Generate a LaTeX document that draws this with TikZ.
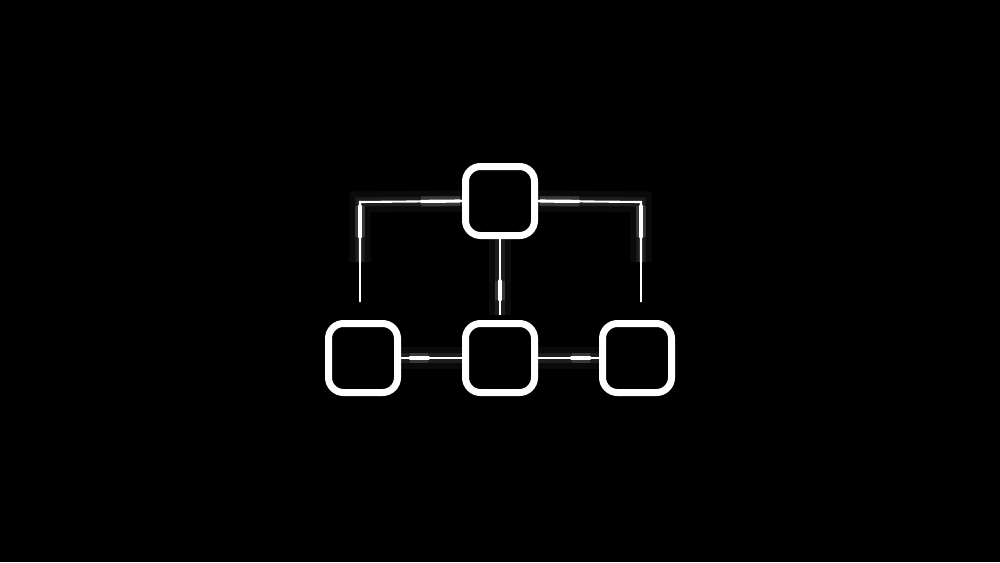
\documentclass[tikz,border=0pt]{standalone}
\usetikzlibrary{positioning,calc}

\begin{document}
\begin{tikzpicture}[
  x=1cm, y=1cm,
  unit/.style={draw=white, fill=black, line width=0.07cm, rounded corners=0.15cm,
    minimum size=0.69cm, inner sep=0pt},
  glow/.style={draw=white!60, line width=0.6pt,
    preaction={draw=white, opacity=0.04, line width=6pt},
    preaction={draw=white, opacity=0.08, line width=2.6pt}},
  dim/.style={draw=white!30, line width=0.5pt},
  spark/.style={draw=white, line width=0.9pt, line cap=round,
    preaction={draw=white, opacity=0.12, line width=3pt}}
]
% background
\fill[black] (0,0) rectangle (10,5.62);
\useasboundingbox (0,0) rectangle (10,5.62);

% Nodes
\node[unit] (top) at (5.00,3.61) {};
\node[unit] (mid) at (5.00,2.04) {};
\node[unit, left=0.61cm of mid] (left) {};
\node[unit, right=0.61cm of mid] (right) {};

% free ends of the connectors
\coordinate (lcorner) at (3.60,3.60);
\coordinate (rcorner) at (6.41,3.60);
\coordinate (lend) at (3.60,2.60);
\coordinate (rend) at (6.41,2.60);
\coordinate (midend) at ($(mid.north)+(0,0.05)$);

% Connectors
\draw[glow] (top.west) -- (lcorner) -- ($(lcorner)!0.6!(lend)$);
\draw[glow] (top.east) -- (rcorner) -- ($(rcorner)!0.6!(rend)$);
\draw[dim] ($(lcorner)!0.6!(lend)$) -- (lend);
\draw[dim] ($(rcorner)!0.6!(rend)$) -- (rend);
\draw[glow] (top.south) -- (midend);
\draw[glow] (left.east) -- (mid.west);
\draw[glow] (mid.east) -- (right.west);

% bright spots on the lines
\draw[spark] ($(top.west)!0.02!(lcorner)$) -- ($(top.west)!0.4!(lcorner)$);
\draw[spark] ($(top.east)!0.02!(rcorner)$) -- ($(top.east)!0.4!(rcorner)$);
\draw[spark] ($(lcorner)!0.04!(lend)$) -- ($(lcorner)!0.35!(lend)$);
\draw[spark] ($(rcorner)!0.04!(rend)$) -- ($(rcorner)!0.35!(rend)$);
\draw[spark] ($(top.south)!0.55!(midend)$) -- ($(top.south)!0.8!(midend)$);
\draw[spark] ($(left.east)!0.15!(mid.west)$) -- ($(left.east)!0.45!(mid.west)$);
\draw[spark] ($(mid.east)!0.55!(right.west)$) -- ($(mid.east)!0.85!(right.west)$);
\end{tikzpicture}
\end{document}
